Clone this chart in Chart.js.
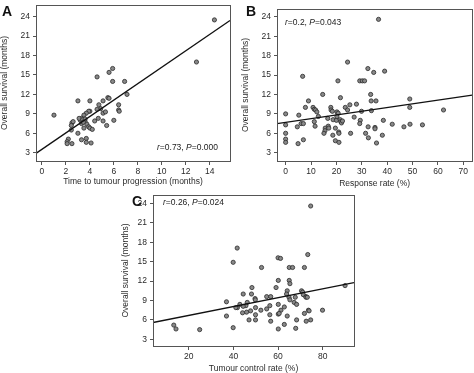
<!DOCTYPE html>
<html>
<head>
<meta charset="utf-8">
<script src="https://cdn.jsdelivr.net/npm/chart.js@4/dist/chart.umd.min.js"></script>
<style>
body { margin: 0; width: 474px; height: 373px; overflow: hidden; background: #fff; position: relative; font-family: "Liberation Sans", Arial, sans-serif; }
canvas { position: absolute; }
.tag { position: absolute; font-weight: bold; font-size: 14px; color: #111; line-height: 1; }
</style>
</head>
<body>
<canvas id="chartA" width="237" height="187" style="left:0;top:0"></canvas>
<canvas id="chartB" width="236" height="189" style="left:241px;top:0"></canvas>
<canvas id="chartC" width="239" height="184" style="left:121px;top:190px"></canvas>
<div class="tag" style="left:2px;top:4px">A</div>
<div class="tag" style="left:246px;top:4px">B</div>
<div class="tag" style="left:132px;top:194px">C</div>
<script>
// panel A: time to tumour progression (months) vs overall survival (months)
const ttp = [14.4, 12.9, 1.0, 3.0, 4.6, 5.6, 5.9, 5.9, 6.9, 4.0, 5.1, 5.5, 5.6, 7.1, 4.75, 4.9, 6.4, 4.6, 5.1, 5.3,
  4.0, 3.9, 6.4, 6.45, 3.7, 3.5, 3.3, 3.5, 3.2, 3.6, 3.3, 3.75, 4.4, 4.7, 6.0, 5.1, 5.4, 3.9, 4.0, 4.2,
  3.5, 2.5, 2.6, 2.45, 2.45, 3.0, 3.3, 3.7, 3.7, 4.1, 2.5, 2.2, 2.1, 2.1, 3.1, 3.4, 3.6, 3.45];
const osA = [23.5, 17.0, 8.8, 11.0, 14.7, 15.4, 16.0, 14.0, 14.0, 11.0, 11.0, 11.5, 11.4, 12.0, 10.4, 9.8, 10.4, 9.7, 9.1, 9.3,
  9.4, 9.4, 9.6, 9.4, 9.1, 8.8, 8.3, 8.0, 8.0, 7.8, 7.5, 7.4, 7.9, 8.3, 8.0, 7.9, 7.2, 7.0, 6.8, 6.6,
  6.8, 7.6, 7.8, 7.2, 6.5, 6.0, 5.0, 5.2, 4.6, 4.5, 4.4, 5.1, 4.7, 4.4, 8.3, 8.1, 8.2, 7.7];
const fitAx = [-0.5, 15.7];
const fitAy = [2.9, 23.4];
const ticksAx = [0, 2, 4, 6, 8, 10, 12, 14];

// panel B: response rate (%) vs overall survival (months)
const rr = [36.6, 24.4, 32.4, 34.7, 39.0, 6.7, 20.6, 29.2, 30.2, 31.1, 14.6, 33.5, 33.7, 35.6, 9.0, 21.6, 48.9, 48.9, 25.3, 27.9,
  23.5, 7.8, 10.8, 11.3, 11.8, 12.3, 17.8, 17.9, 18.4, 20.2, 20.7, 24.4, 29.9, 33.8, 62.2, 0, 5.2, 12.9, 16.6, 18.7,
  20.0, 21.5, 21.7, 22.0, 22.4, 20.2, 27.0, 29.4, 38.5, 11.3, 11.6, 6.1, 7.0, 4.6, 0, 0, 0, 0, 4.9, 7.0,
  15.6, 15.5, 15.1, 16.8, 17.0, 18.6, 19.6, 20.9, 21.0, 19.6, 21.0, 25.6, 29.2, 31.5, 32.5, 32.6, 35.2, 35.2, 35.8, 38.1,
  42.0, 46.6, 49.0, 53.9];
const osB = [23.6, 17.0, 16.0, 15.4, 15.6, 14.8, 14.1, 14.1, 14.1, 14.1, 12.0, 12.0, 11.0, 11.0, 11.0, 11.5, 11.3, 10.0, 10.4, 10.5,
  10.0, 10.0, 10.0, 9.7, 9.6, 9.3, 10.0, 9.6, 9.4, 9.3, 9.1, 9.6, 9.4, 9.5, 9.6, 9.0, 8.8, 8.6, 8.3, 8.1,
  8.0, 8.1, 7.8, 7.6, 7.9, 8.6, 8.5, 8.0, 8.0, 7.8, 7.1, 7.5, 7.5, 7.0, 7.3, 6.0, 5.1, 4.6, 4.4, 5.0,
  6.8, 6.4, 6.0, 7.1, 6.8, 5.7, 6.8, 6.2, 6.0, 4.85, 4.6, 6.0, 7.5, 6.0, 7.0, 5.3, 6.9, 6.7, 4.5, 5.7,
  7.4, 7.0, 7.4, 7.3];
const fitBx = [-3.4, 73.5];
const fitBy = [7.5, 11.9];
const ticksBx = [0, 10, 20, 30, 40, 50, 60, 70];

// panel C: tumour control rate (%) vs overall survival (months)
const tcr = [74.6, 41.7, 39.9, 52.6, 60.0, 61.1, 65.0, 66.5, 71.8, 73.3, 60.1, 65.0, 65.3, 59.1, 48.3, 44.4, 48.1, 64.1, 63.8, 70.5,
  71.0, 71.3, 72.5, 54.9, 56.7, 49.7, 49.8, 64.9, 65.3, 72.5, 73.1, 67.7, 36.9, 42.9, 46.2, 45.6, 44.4, 41.8, 41.1, 67.2,
  68.3, 60.1, 62.8, 56.3, 49.9, 52.3, 54.9, 61.3, 73.6, 73.9, 79.9, 44.1, 47.7, 45.9, 49.9, 56.3, 60.1, 60.5, 71.8, 36.9,
  47.0, 49.9, 56.7, 64.1, 68.3, 72.6, 74.6, 39.9, 60.1, 62.8, 67.9, 13.3, 14.3, 24.9, 90.0];
const osC = [23.6, 17.1, 14.9, 14.1, 15.6, 15.5, 14.1, 14.1, 14.1, 16.1, 12.1, 12.1, 11.6, 11.0, 11.0, 10.0, 10.0, 10.5, 10.0, 10.5,
  10.3, 9.9, 9.6, 9.6, 9.6, 9.3, 9.1, 9.5, 9.1, 9.5, 9.5, 9.5, 8.8, 8.4, 8.7, 8.2, 8.1, 7.9, 7.9, 8.7,
  8.4, 8.4, 8.0, 8.2, 7.9, 7.5, 7.7, 7.5, 7.5, 7.4, 7.5, 7.1, 7.4, 7.2, 6.8, 6.8, 6.9, 7.0, 7.0, 6.6,
  6.0, 6.0, 5.8, 6.6, 6.0, 5.8, 6.0, 4.8, 4.6, 5.3, 4.7, 5.2, 4.6, 4.5, 11.3];
const fitCx = [4.0, 94.0];
const fitCy = [5.6, 11.75];
const ticksCx = [20, 40, 60, 80];

const ticksY = [3, 6, 9, 12, 15, 18, 21, 24];

const FONT = '"Liberation Sans", Arial, sans-serif';

const framePlugin = {
  id: 'frame',
  afterDatasetsDraw(chart, args, opts) {
    const a = chart.chartArea;
    const ctx = chart.ctx;
    ctx.save();
    ctx.strokeStyle = '#555';
    ctx.lineWidth = 1;
    ctx.strokeRect(Math.round(a.left) + 0.5, Math.round(a.top) + 0.5,
      Math.round(a.right - a.left), Math.round(a.bottom - a.top));
    ctx.fillStyle = '#222';
    ctx.textBaseline = 'middle';
    let x = opts.x;
    opts.text.forEach(seg => {
      ctx.font = (seg.i ? 'italic ' : '') + '8.5px ' + FONT;
      ctx.fillText(seg.t, x, opts.y);
      x += ctx.measureText(seg.t).width;
    });
    ctx.restore();
  }
};
Chart.register(framePlugin);

function note(r, p) {
  return [{t: 'r', i: true}, {t: '=' + r + ', '}, {t: 'P', i: true}, {t: '=' + p}];
}

function makeChart(id, xs, ys, fx, fy, xMin, xMax, yMin, yMax, xTicks, xTitle, box, txt) {
  const pts = xs.map((v, i) => ({x: v, y: ys[i]}));
  const line = fx.map((v, i) => ({x: v, y: fy[i]}));
  return new Chart(document.getElementById(id).getContext('2d'), {
    type: 'scatter',
    data: {
      datasets: [{
        data: line,
        showLine: true,
        borderColor: '#111',
        borderWidth: 1.3,
        pointRadius: 0,
        order: 0
      }, {
        data: pts,
        pointRadius: 2.1,
        pointBackgroundColor: '#888',
        pointBorderColor: '#2a2a2a',
        pointBorderWidth: 0.8,
        order: 1
      }]
    },
    options: {
      responsive: false,
      animation: false,
      devicePixelRatio: 1,
      layout: {padding: box.pad},
      plugins: {
        legend: {display: false},
        tooltip: {enabled: false},
        frame: txt
      },
      scales: {
        x: {
          type: 'linear',
          min: xMin,
          max: xMax,
          afterBuildTicks: s => { s.ticks = xTicks.map(v => ({value: v})); },
          afterFit: s => { s.height = box.xH; s.paddingLeft = 0; s.paddingRight = 0; },
          grid: {drawOnChartArea: false, drawTicks: true, tickLength: 4, tickColor: '#555'},
          border: {display: false},
          ticks: {color: '#2a2a2a', font: {size: 8.5, family: FONT}, padding: 2, maxRotation: 0, autoSkip: false},
          title: {display: true, text: xTitle, color: '#2a2a2a', font: {size: 8.5, family: FONT}, padding: 0}
        },
        y: {
          type: 'linear',
          min: yMin,
          max: yMax,
          afterBuildTicks: s => { s.ticks = ticksY.map(v => ({value: v})); },
          afterFit: s => { s.width = box.yW; s.paddingTop = 0; s.paddingBottom = 0; },
          grid: {drawOnChartArea: false, drawTicks: true, tickLength: 3, tickColor: '#555'},
          border: {display: false},
          ticks: {color: '#2a2a2a', font: {size: 8.5, family: FONT}, padding: 3, autoSkip: false},
          title: {display: true, text: 'Overall survival (months)', color: '#2a2a2a', font: {size: 8.5, family: FONT}, padding: 0}
        }
      }
    }
  });
}

makeChart('chartA', ttp, osA, fitAx, fitAy, -0.5, 15.7, 1.72, 25.8, ticksAx,
  'Time to tumour progression (months)',
  {pad: {top: 5, right: 7, left: 0, bottom: 0}, yW: 36, xH: 26},
  {x: 157, y: 148, text: note('0.73', '0.000')});

makeChart('chartB', rr, osB, fitBx, fitBy, -3.4, 73.5, 1.72, 25.2, ticksBx,
  'Response rate (%)',
  {pad: {top: 9, right: 0, left: 0, bottom: 0}, yW: 36, xH: 28},
  {x: 44, y: 23, text: note('0.2', '0.043')});

makeChart('chartC', tcr, osC, fitCx, fitCy, 4, 94, 1.97, 25.3, ticksCx,
  'Tumour control rate (%)',
  {pad: {top: 5, right: 6, left: 0, bottom: 0}, yW: 32, xH: 28},
  {x: 42, y: 13, text: note('0.26', '0.024')});
</script>
</body>
</html>
